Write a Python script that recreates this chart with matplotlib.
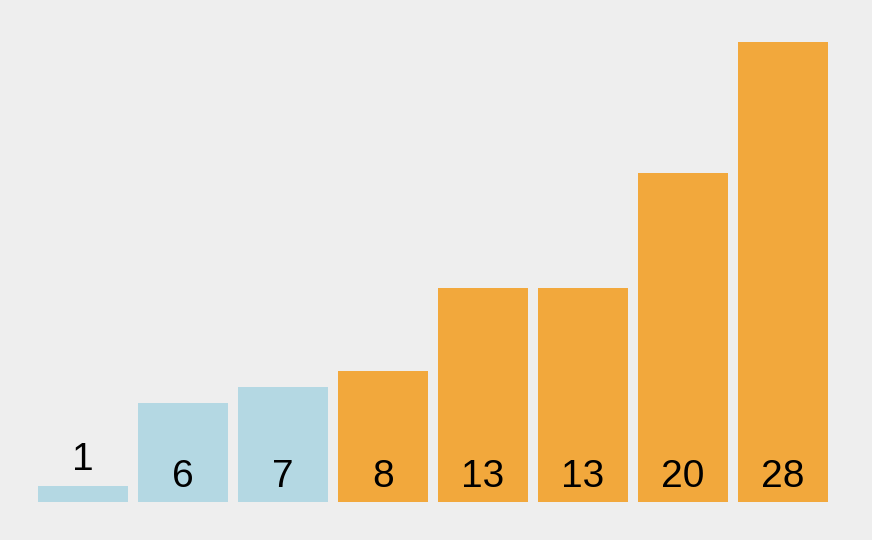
import matplotlib
matplotlib.use('Agg')
import matplotlib.pyplot as plt

# Bar values, left to right
VALUES = [1, 6, 7, 8, 13, 13, 20, 28]
# Which bars are highlighted in orange
HIGHLIGHT = [False, False, False, True, True, True, True, True]

BLUE = '#b4d8e3'
ORANGE = '#f2a83c'
BG = '#eeeeee'

plt.rcParams['font.family'] = ['Liberation Sans', 'DejaVu Sans']

fig = plt.figure(figsize=(8.72, 5.4), dpi=100, facecolor=BG)
ax = fig.add_axes([38 / 872, 38 / 540, 790 / 872, 460 / 540])
ax.set_facecolor(BG)

x = range(len(VALUES))
colors = [ORANGE if h else BLUE for h in HIGHLIGHT]
ax.bar(x, VALUES, width=0.9, color=colors)

# Labels sit inside the bar near its bottom, or above it when the bar is too short
for xi, v in zip(x, VALUES):
    if v < 3:
        ax.annotate(str(v), (xi, v), xytext=(0, 16), textcoords='offset pixels',
                    ha='center', va='baseline', fontsize=28, color='black')
    else:
        ax.annotate(str(v), (xi, 0), xytext=(0, 15), textcoords='offset pixels',
                    ha='center', va='baseline', fontsize=28, color='black')

ax.set_xlim(-0.45, len(VALUES) - 0.55)
ax.set_ylim(0, max(VALUES))
ax.axis('off')

fig.savefig('out.png', dpi=100, facecolor=BG)
